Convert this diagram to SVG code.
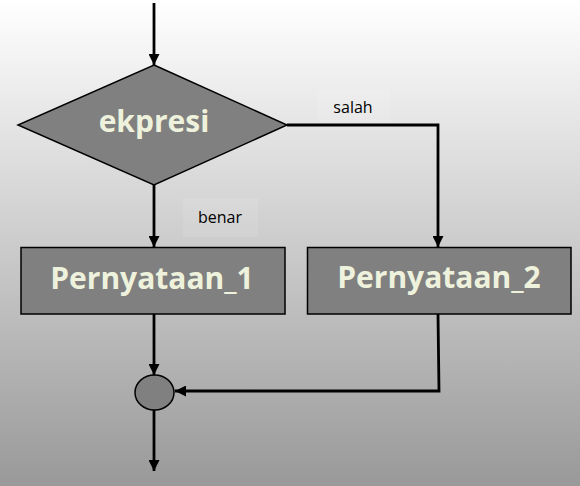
<svg xmlns="http://www.w3.org/2000/svg" width="580" height="486" viewBox="0 0 580 486">
<defs>
<linearGradient id="bg" x1="0" y1="0" x2="0" y2="1">
<stop offset="0" stop-color="#ffffff"/>
<stop offset="1" stop-color="#999999"/>
</linearGradient>
<marker id="arr" viewBox="0 0 10 10" refX="10" refY="5" markerWidth="11" markerHeight="11" markerUnits="userSpaceOnUse" orient="auto">
<path d="M0,0 L10,5 L0,10 z" fill="#000"/>
</marker>
<style>
.shape{fill:#808080;stroke:#000;stroke-width:1.5}
.big{font-family:"Open Sans","DejaVu Sans",sans-serif;font-weight:bold;font-size:30px;fill:#eef2dc;text-anchor:middle}
.lbl{font-family:"Open Sans","DejaVu Sans",sans-serif;font-size:16px;fill:#000;text-anchor:middle}
.lblbg{fill:#ffffff;fill-opacity:0.1}
.conn{fill:none;stroke:#000;stroke-width:2.8;marker-end:url(#arr)}
</style>
</defs>
<rect x="0" y="0" width="580" height="486" fill="url(#bg)"/>
<g id="connectors">
<line class="conn" x1="154" y1="3" x2="154" y2="65"/>
<line class="conn" x1="154" y1="185" x2="154" y2="247"/>
<polyline class="conn" points="287,125 438,125 438,247"/>
<line class="conn" x1="154" y1="314" x2="154" y2="375"/>
<polyline class="conn" points="438,314 439,391 175,391"/>
<line class="conn" x1="154" y1="410" x2="154" y2="471"/>
</g>
<g id="label-salah">
<rect class="lblbg" x="317" y="90" width="73" height="32"/>
<text class="lbl" x="353" y="113">salah</text>
</g>
<g id="label-benar">
<rect class="lblbg" x="183" y="198" width="75" height="39"/>
<text class="lbl" x="220" y="223">benar</text>
</g>
<g id="ekpresi">
<polygon class="shape" points="154,65 287,125 154,185 18,125"/>
<text class="big" x="154" y="132">ekpresi</text>
</g>
<g id="pernyataan1">
<rect class="shape" x="21" y="247.5" width="264" height="66.5"/>
<text class="big" x="152" y="289">Pernyataan_1</text>
</g>
<g id="pernyataan2">
<rect class="shape" x="307.5" y="247.5" width="263.5" height="66.5"/>
<text class="big" x="439" y="288">Pernyataan_2</text>
</g>
<g id="junction">
<ellipse class="shape" cx="154.5" cy="392.5" rx="19.5" ry="17.5"/>
</g>
</svg>
